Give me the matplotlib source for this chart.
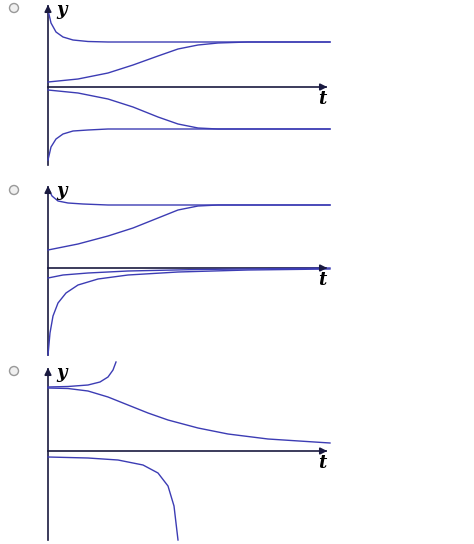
import matplotlib.pyplot as plt
from matplotlib.patches import Circle

# each panel: origin of axes in screen pixels, curves as (t, y)
origins = [(48, 87), (48, 268), (48, 451)]
y_extent = [(85, -78), (85, -87), (86, -89)]
t_end = 282

panel1 = [
    ([0, 3, 8, 15, 25, 40, 60, 282], [77, 64, 55, 50, 47, 45.5, 45, 45]),
    ([0, 30, 60, 85, 110, 130, 150, 170, 200, 282], [5, 8, 14, 22, 31, 38, 42, 44, 45, 45]),
    ([0, 30, 60, 85, 110, 130, 150, 170, 200, 282], [-3, -6, -12, -20, -30, -37, -41, -42, -42, -42]),
    ([0, 3, 8, 15, 25, 40, 60, 282], [-73, -60, -52, -47, -44, -43, -42, -42]),
]
panel2 = [
    ([0, 4, 10, 20, 35, 60, 282], [80, 72, 67, 65, 64, 63, 63]),
    ([0, 30, 60, 85, 110, 130, 150, 170, 282], [18, 24, 32, 40, 50, 58, 62, 63, 63]),
    ([0, 15, 40, 80, 150, 282], [-10, -7, -5, -3, -1.5, 0]),
    ([0, 2, 5, 10, 18, 30, 50, 80, 130, 200, 282], [-87, -65, -48, -35, -25, -17, -11, -7, -4, -2, -1]),
]
panel3 = [
    ([0, 20, 40, 52, 60, 65, 68], [64, 64.5, 66, 69, 74, 81, 89]),
    ([0, 20, 40, 60, 80, 100, 120, 150, 180, 220, 282], [63, 62.5, 60, 54, 46, 38, 31, 23, 17, 12, 8]),
    ([0, 40, 70, 95, 110, 120, 126, 130], [-6, -7, -9, -14, -22, -35, -55, -89]),
]
panels = [panel1, panel2, panel3]
radio_y = [8, 190, 371]

line_color = '#3c3cb4'
axis_color = '#1a1a40'

fig = plt.figure(figsize=(4.74, 5.44), dpi=100)
ax = fig.add_axes([0, 0, 1, 1])
ax.set_xlim(0, 474)
ax.set_ylim(544, 0)
ax.axis('off')

for (ox, oy), (ytop, ybot), curves, ry in zip(origins, y_extent, panels, radio_y):
    # axes
    ax.plot([ox, ox], [oy - ytop + 4, oy - ybot], color=axis_color, lw=1.2)
    ax.annotate('', xy=(ox, oy - ytop), xytext=(ox, oy - ytop + 8),
                arrowprops=dict(arrowstyle='-|>', color=axis_color, lw=1.2, mutation_scale=10))
    ax.plot([ox, ox + t_end - 4], [oy, oy], color=axis_color, lw=1.2)
    ax.annotate('', xy=(ox + t_end, oy), xytext=(ox + t_end - 8, oy),
                arrowprops=dict(arrowstyle='-|>', color=axis_color, lw=1.2, mutation_scale=10))
    ax.text(ox + 8, oy - ytop + 8, 'y', fontsize=13, fontweight='bold', style='italic',
            family='DejaVu Serif', color='black', va='center')
    ax.text(ox + 270, oy + 17, 't', fontsize=13, fontweight='bold', style='italic',
            family='DejaVu Serif', color='black')
    for ts, ys in curves:
        ax.plot([ox + t for t in ts], [oy - y for y in ys], color=line_color, lw=1)
    ax.add_patch(Circle((14, ry), 4.5, facecolor='#f0f0f0', edgecolor='#999999', lw=1))

plt.savefig('out.png', dpi=100)
